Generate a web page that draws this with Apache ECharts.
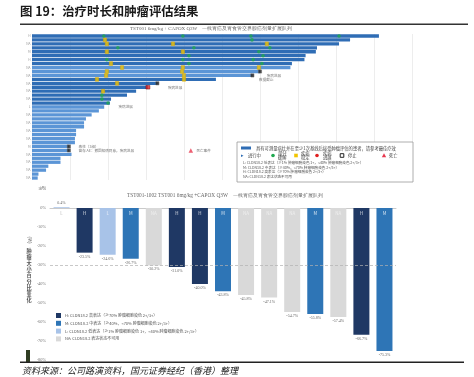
<!DOCTYPE html>
<html>
<head>
<meta charset="utf-8">
<script src="https://cdn.jsdelivr.net/npm/echarts/dist/echarts.min.js"></script>
<style>
html, body { margin: 0; padding: 0; background: #fff; }
#chart { width: 474px; height: 377px; }
</style>
</head>
<body>
<div id="chart"></div>
<script>
// ---------- 上图：治疗时长（泳道图） ----------
const rowLevels = ["H", "M", "NA", "H", "M", "NA", "H", "M", "NA", "L", "NA", "M", "NA", "H", "NA", "M",
  "NA", "NA", "L", "NA", "NA", "M", "NA", "NA", "NA", "L", "NA", "NA", "M", "NA", "NA", "NA", "NA", "L", "NA", "NA", "NA"];
// 治疗时长（月）
const durations = [9.13, 8.37, 8.08, 7.5, 7.47, 7.2, 7.17, 6.84, 6.8, 6.0, 5.8, 4.84, 3.3, 3.05, 2.74, 2.5,
  2.08, 2.05, 1.9, 1.76, 1.57, 1.42, 1.37, 1.37, 1.16, 1.16, 1.13, 1.13, 0.97, 0.97, 1.04, 0.75, 0.75, 0.43, 0.37, 0.17, 0.15];
// d = 深蓝, l = 浅蓝
const barShade = "ddddddddllldddddddlllllllllllllllllll".split("");

// 肿瘤评估 [时间, 行]
const prPoints = [[1.89, 0], [3.97, 0], [5.76, 0], [8.08, 0], [5.79, 1], [2.26, 3], [4.26, 3], [6.26, 3],
  [5.97, 4], [4.13, 5], [6.08, 5], [1.97, 6], [3.97, 6], [5.82, 6], [4.13, 7], [6.05, 7],
  [1.84, 15], [1.84, 16], [2.0, 17]];
const sdPoints = [[1.92, 1], [1.97, 2], [3.71, 2], [6.18, 2], [1.97, 4], [3.97, 4], [2.08, 7],
  [2.37, 8], [3.97, 8], [5.97, 8], [1.97, 9], [3.95, 9], [1.95, 10], [4.0, 10], [1.71, 11], [4.0, 11],
  [2.24, 12], [1.87, 14]];
const pdPoints = [[3.05, 13]];
const stopPoints = [[6.0, 9], [5.8, 10], [3.3, 12], [0.97, 28], [0.97, 29]];
const deathPoints = [[4.18, 29]];
const notes = [
  ["疾病进展", 3.55, 13],
  ["疾病进展", 2.25, 18],
  ["疾病进展", 6.15, 10],
  ["数据截止", 5.95, 11],
  ["毒性（3级）", 1.2, 28],
  ["留存 AE：撤回知情同意，疾病进展", 1.2, 29],
  ["死亡事件", 4.3, 29],
];

// ---------- 下图：肿瘤大小百分比变化 ----------
const patients = ["1", "2", "3", "4", "5", "6", "7", "8", "9", "10", "11", "12", "13", "14", "15"];
const tumorChange = [0.4, -23.5, -24.6, -26.7, -30.2, -31.0, -40.0, -43.8, -45.8, -47.1, -54.7, -55.8, -57.4, -66.7, -75.3];
const exprLevel = ["L", "H", "L", "M", "NA", "H", "H", "M", "NA", "NA", "NA", "M", "NA", "H", "M"];
const levelNames = {
  H: "H: CLDN18.2 高表达（≥70% 肿瘤细胞染色 2+/3+）",
  M: "M: CLDN18.2 中表达（≥40%，<70% 肿瘤细胞染色 2+/3+）",
  L: "L: CLDN18.2 低表达（≥1% 肿瘤细胞染色 1+，<40% 肿瘤细胞染色 2+/3+）",
  NA: "NA: CLDN18.2 表达状态不可用",
};
const levelColors = { H: "#1f3864", M: "#2e75b6", L: "#a8c3e8", NA: "#d9d9d9" };

let myChart = echarts.init(document.getElementById("chart"), null, { renderer: "canvas" });

const cjk = '"Noto Sans CJK SC", "Noto Sans", sans-serif';
const serif = '"Liberation Serif", "DejaVu Serif", serif';

function noteText(x, y, text, size, color, extra) {
  return {
    type: "text",
    x: x,
    y: y,
    silent: true,
    style: Object.assign({ text: text, fontSize: size, fill: color, fontFamily: cjk, textVerticalAlign: "middle" }, extra || {}),
  };
}

// 上图图例（方框）
const legendBox = [
  { type: "rect", shape: { x: 237, y: 142, width: 176, height: 40 }, style: { fill: "#fff", stroke: "#9a9a9a", lineWidth: 0.8 }, z: 10 },
  { type: "rect", shape: { x: 241, y: 146.5, width: 10, height: 3 }, style: { fill: "#2f6db5" }, z: 11 },
  noteText(256, 148, "具有可测量病灶并在至少1次基线后接受肿瘤评估的患者，请参考最佳疗效", 4.3, "#444"),
  noteText(241, 155.5, "▸", 5, "#2f6db5"),
  noteText(248, 155.5, "进行中", 4.3, "#444"),
  { type: "circle", shape: { cx: 273, cy: 155.5, r: 1.8 }, style: { fill: "#1fa84f" }, z: 11 },
  noteText(278, 155.5, "部分\n缓解", 4.3, "#444", { lineHeight: 4.6 }),
  { type: "rect", shape: { x: 294.2, y: 153.7, width: 3.6, height: 3.6 }, style: { fill: "#f2c500" }, z: 11 },
  noteText(301, 155.5, "疾病\n稳定", 4.3, "#444", { lineHeight: 4.6 }),
  { type: "circle", shape: { cx: 317, cy: 155.5, r: 1.8 }, style: { fill: "#e02020" }, z: 11 },
  noteText(323, 155.5, "疾病\n进展", 4.3, "#444", { lineHeight: 4.6 }),
  { type: "rect", shape: { x: 340.2, y: 153.7, width: 3.6, height: 3.6 }, style: { fill: "#fff", stroke: "#222", lineWidth: 1 }, z: 11 },
  noteText(348, 155.5, "停止", 4.3, "#444"),
  { type: "polygon", shape: { points: [[384, 153.3], [386.2, 157.3], [381.8, 157.3]] }, style: { fill: "#e8384f" }, z: 11 },
  noteText(389, 155.5, "死亡", 4.3, "#444"),
  noteText(243, 163, levelNames.L, 3.6, "#555"),
  noteText(243, 167.5, levelNames.M, 3.6, "#555"),
  noteText(243, 172, levelNames.H, 3.6, "#555"),
  noteText(243, 176.5, levelNames.NA, 3.6, "#555"),
];
legendBox.forEach(function (g) { if (g.z === undefined) g.z = 11; });

function scatterSeries(name, data, symbol, size, color, border) {
  return {
    name: name,
    type: "scatter",
    xAxisIndex: 0,
    yAxisIndex: 0,
    symbol: symbol,
    symbolSize: size,
    itemStyle: { color: color, borderColor: border || color, borderWidth: border ? 0.6 : 0 },
    data: data,
    z: 5,
  };
}

let option;
option = {
  animation: false,
  backgroundColor: "#fff",
  textStyle: { fontFamily: cjk },
  graphic: [
    // 标题
    {
      type: "text", left: 20, top: 5.5,
      style: { text: "图 19：治疗时长和肿瘤评估结果", fontSize: 12.4, fontWeight: "bold", fill: "#1a1a1a", fontFamily: cjk },
    },
    { type: "rect", shape: { x: 20, y: 23.5, width: 448, height: 1.4 }, style: { fill: "#333" } },
    {
      type: "text", left: 130, top: 26.5,
      style: { text: "TST001 6mg/kg + CAPOX Q3W    一线胃癌及胃食管交界腺癌剂量扩展队列", fontSize: 5, fill: "#666", fontFamily: serif },
    },
    noteText(40, 188, "(月)", 3.6, "#888"),
    {
      type: "text", left: 127, top: 193.5,
      style: { text: "TST001-1002 TST001 6mg/kg +CAPOX Q3W    一线胃癌及胃食管交界腺癌剂量扩展队列", fontSize: 5.3, fill: "#666", fontFamily: serif },
    },
    // 纵轴名称
    {
      type: "text", x: 29, y: 240, rotation: -Math.PI / 2,
      style: { text: "(%)", fontSize: 4.5, fill: "#666", textAlign: "center", textVerticalAlign: "middle" },
    },
    {
      type: "text", x: 29, y: 248,
      style: { text: "肿\n瘤\n大\n小\n百\n分\n比\n变\n化", fontSize: 5.2, lineHeight: 6.1, fill: "#555", fontWeight: "bold", textAlign: "center", fontFamily: cjk },
    },
    { type: "rect", shape: { x: 26, y: 350, width: 4, height: 12 }, style: { fill: "#2f3d22" } },
    // 来源
    { type: "rect", shape: { x: 20, y: 361.5, width: 444, height: 1.5 }, style: { fill: "#222" } },
    {
      type: "text", left: 22, top: 366,
      style: { text: "资料来源：公司路演资料，国元证券经纪（香港）整理", fontSize: 9, fontStyle: "italic", fill: "#222", fontFamily: cjk },
    },
  ].concat(legendBox),

  legend: {
    data: ["H", "M", "L", "NA"].map(function (k) { return levelNames[k]; }),
    orient: "vertical",
    left: 56,
    top: 313,
    padding: 0,
    itemWidth: 5,
    itemHeight: 5,
    itemGap: 2.8,
    icon: "rect",
    selectedMode: false,
    textStyle: { fontSize: 4, color: "#555", padding: [0, 0, 0, -1] },
  },

  grid: [
    { left: 32, top: 34, width: 380, height: 146 },
    { left: 50, top: 189, width: 346, height: 171 },
  ],
  xAxis: [
    {
      gridIndex: 0,
      type: "value",
      min: 0,
      max: 10,
      interval: 1,
      axisLabel: { show: false },
      axisLine: { show: false },
      axisTick: { show: false },
      splitLine: { lineStyle: { color: "#e0e0e0", width: 0.6 } },
    },
    {
      gridIndex: 1,
      type: "category",
      data: patients,
      axisLabel: { show: false },
      axisTick: { show: false },
      axisLine: { lineStyle: { color: "#bdbdbd", width: 0.8 } },
    },
  ],
  yAxis: [
    {
      gridIndex: 0,
      type: "category",
      inverse: true,
      data: rowLevels,
      axisLine: { show: false },
      axisTick: { show: false },
      axisLabel: { fontSize: 3.2, color: "#999", margin: 1.5 },
    },
    {
      gridIndex: 1,
      type: "value",
      min: -80,
      max: 10,
      interval: 10,
      axisLine: { show: false },
      axisTick: { show: false },
      splitLine: { show: false },
      axisLabel: { formatter: "{value}%", fontSize: 4.3, color: "#777", margin: 4, fontFamily: serif },
    },
  ],
  series: [
    {
      name: "治疗时长",
      type: "bar",
      xAxisIndex: 0,
      yAxisIndex: 0,
      barCategoryGap: "16%",
      data: durations.map(function (v, i) {
        return { value: v, itemStyle: { color: barShade[i] === "d" ? "#2f6db5" : "#5b95d6" } };
      }),
      z: 2,
    },
    scatterSeries("部分缓解", prPoints, "circle", 3.6, "#1fa84f"),
    scatterSeries("疾病稳定", sdPoints, "rect", [3.2, 3.8], "#f2c500", "#d9a800"),
    scatterSeries("疾病进展", pdPoints, "rect", [4, 3.6], "#e02020", "#7a0c0c"),
    scatterSeries("停止", stopPoints, "rect", 3.2, "#1c1c1c", "#666"),
    scatterSeries("死亡", deathPoints, "triangle", 4.5, "#e8384f"),
    {
      name: "注释",
      type: "scatter",
      xAxisIndex: 0,
      yAxisIndex: 0,
      symbolSize: 0,
      silent: true,
      label: {
        show: true,
        position: "right",
        distance: 1,
        formatter: function (p) { return p.data.name; },
        fontSize: 3.6,
        color: "#555",
      },
      data: notes.map(function (n) { return { name: n[0], value: [n[1], n[2]] }; }),
      z: 6,
    },
  ].concat(["H", "M", "L", "NA"].map(function (k, si) {
    return {
      name: levelNames[k],
      type: "bar",
      xAxisIndex: 1,
      yAxisIndex: 1,
      stack: "change",
      barWidth: 16,
      itemStyle: { color: levelColors[k] },
      label: {
        show: true,
        position: "bottom",
        distance: 2,
        fontSize: 4,
        color: "#666",
        fontFamily: serif,
        formatter: function (p) { return p.value.toFixed(1) + "%"; },
      },
      markLine: si === 0 ? {
        silent: true,
        symbol: "none",
        label: { show: false },
        lineStyle: { color: "#b0b0b0", type: [3, 2], width: 0.7 },
        data: [{ yAxis: -30 }],
      } : undefined,
      data: tumorChange.map(function (v, i) {
        if (exprLevel[i] !== k) return "-";
        return v > 0 ? { value: v, label: { position: "top" } } : v;
      }),
    };
  }), [{
    name: "表达",
    type: "scatter",
    xAxisIndex: 1,
    yAxisIndex: 1,
    symbolSize: 0,
    silent: true,
    label: {
      show: true,
      position: "inside",
      fontSize: 4.5,
      formatter: function (p) { return p.data.name; },
    },
    data: exprLevel.map(function (k, i) {
      let c = "#fff";
      if (k === "NA") c = "#f4f4f4";
      if (tumorChange[i] > -3) c = "#aaa";
      return { name: k, value: [i, -2.6], label: { color: c } };
    }),
    z: 6,
  }]),
};

myChart.setOption(option && option);
</script>
</body>
</html>
